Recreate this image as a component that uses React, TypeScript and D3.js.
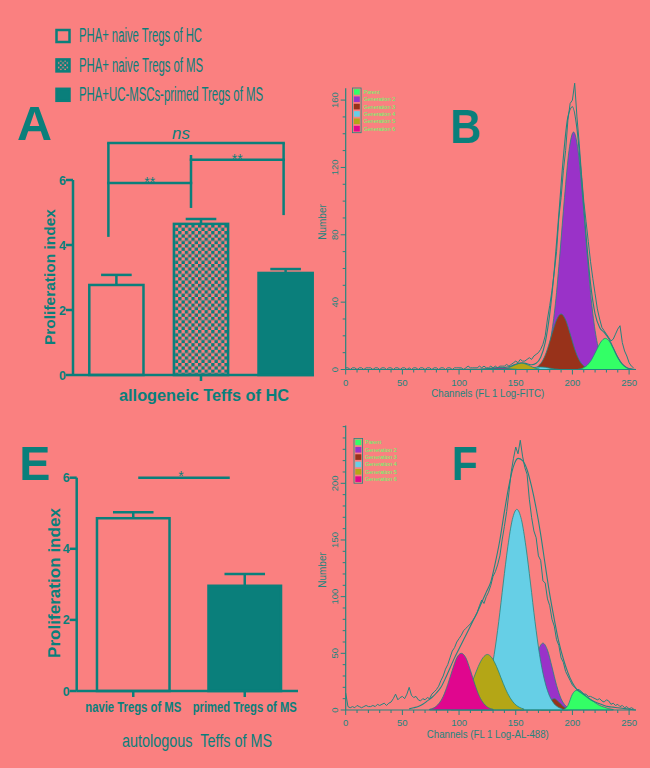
import React from "react";
import * as d3 from "d3";

const W = 650;
const H = 768;
const BG = "#fa8080";
const TEAL = "#0a7f7b";
const INK = "#23857f";
const LEGEND_INK = "#5cff6c";
const FONT = "'Liberation Sans', Arial, Helvetica, sans-serif";

// ---------- bar panels (A, E) ----------
const A_LABELS = ["PHA+ naive Tregs of HC", "PHA+ naive Tregs of MS", "PHA+UC-MSCs-primed Tregs of MS"];
const A_LABEL_WIDTHS = [123, 124, 184];
const A_MEANS = [2.77, 4.65, 3.14];
const A_SEMS = [0.31, 0.15, 0.12];
const A_STYLES = ["open", "checker", "solid"];
const A_BRACKETS = [
  { from: 0, to: 2, level: 7.14, label: "ns" },
  { from: 0, to: 1, level: 5.91, label: "**" },
  { from: 1, to: 2, level: 6.62, label: "**" },
];
const A_LEGS = [
  { at: 0, top: 7.14, bottom: 4.25 },
  { at: 1, top: 6.77, bottom: 5.14 },
  { at: 2, top: 7.14, bottom: 4.92 },
];

const E_LABELS = ["navie Tregs of MS", "primed Tregs of MS"];
const E_LABEL_WIDTHS = [96, 104];
const E_MEANS = [4.86, 2.96];
const E_SEMS = [0.17, 0.33];
const E_STYLES = ["open", "solid"];
const E_BRACKET = { from: 0, to: 1, level: 6, label: "*" };

const INDEX_TICKS = [0, 2, 4, 6];

// ---------- flow histograms (B, F) ----------
const GEN_NAMES = ["Parent", "Generation 2", "Generation 3", "Generation 4", "Generation 5", "Generation 6"];
const GEN_COLORS = ["#33ff66", "#9a32c8", "#98321a", "#66cfe6", "#b4a616", "#e0068e"];
const DRAW_ORDER = [1, 2, 3, 4, 5, 0];
const CHANNEL_TICKS = [0, 50, 100, 150, 200, 250];

// B: observed counts, every 2nd channel from 0
const B_DATA = [
  1, 1, 0, 1, 1, 0, 1, 1, 0, 1, 1, 1, 0, 1, 1, 0, 1, 1, 0, 1,
  1, 0, 1, 1, 0, 1, 1, 0, 1, 0, 1, 1, 0, 1, 1, 0, 1, 1, 0, 1,
  1, 0, 1, 1, 0, 1, 1, 0, 1, 1, 1, 1, 0, 1, 2, 1, 1, 1, 1, 2,
  1, 2, 1, 1, 2, 1, 2, 1, 2, 2, 2, 3, 2, 3, 4, 5, 4, 6, 5, 5,
  6, 7, 6, 8, 9, 10, 12, 15, 20, 30, 38, 47, 58, 70, 90, 102, 118, 130, 148, 158,
  160, 170, 150, 134, 116, 100, 88, 76, 64, 54, 45, 36, 30, 25, 23, 21, 19, 17, 18, 21,
  24, 26, 16, 11, 8, 4, 2, 1,
];
// B: fitted envelope, every 4th channel from 100
const B_MODEL_START = 100;
const B_MODEL = [
  0.1, 0.1, 0.1, 0.1, 0.15, 0.2, 0.4, 0.7, 0.9, 1.0, 1.2, 1.6, 2.6, 3.6, 4.0, 3.4, 2.8, 3.7, 7.3, 16,
  33, 59, 92, 126, 150, 156, 143, 114, 80, 51, 33, 25, 22, 18.4, 12.9, 7.2, 3.2, 1.1, 0.3, 0,
];
// B: generation peaks, every 4th channel from the start channel
const B_STARTS = [205, 169, 166, 156, 139, 119];
const B_PARENT = [0.2, 0.8, 2.5, 6.0, 11.2, 16.3, 18.5, 16.3, 11.2, 6.0, 2.5, 0.8, 0.2];
const B_GEN2 = [0.8, 2.8, 7.9, 19, 39, 69, 102, 130, 141, 130, 102, 69, 39, 19, 7.9, 2.8, 0.8];
const B_GEN3 = [0.6, 2.1, 5.6, 12.2, 21.2, 29.5, 33, 29.5, 21.2, 12.2, 5.6, 2.1, 0.6];
const B_GEN4 = [0.1, 0.35, 0.8, 1.3, 1.5, 1.3, 0.8, 0.35, 0.1];
const B_GEN5 = [0.28, 0.87, 2.0, 3.2, 3.8, 3.2, 2.0, 0.87, 0.28];
const B_GEN6 = [0.1, 0.3, 0.6, 0.9, 1.0, 0.9, 0.6, 0.3, 0.1];
const B_Y_TICKS = [0, 40, 80, 120, 160];

// F
const F_DATA = [
  15, 3, 2, 3, 2, 4, 3, 2, 3, 4, 3, 3, 4, 3, 5, 4, 5, 6, 4, 6,
  7, 10, 14, 9, 11, 12, 10, 14, 20, 13, 11, 12, 9, 8, 10, 9, 11, 10, 14, 16,
  18, 21, 26, 30, 36, 40, 46, 52, 55, 60, 63, 66, 70, 72, 74, 76, 79, 82, 86, 92,
  97, 94, 100, 104, 110, 118, 122, 128, 136, 150, 162, 175, 192, 210, 222, 232, 226, 238, 224, 214,
  208, 186, 170, 158, 152, 136, 132, 114, 112, 98, 92, 80, 74, 62, 57, 46, 42, 34, 30, 26,
  22, 20, 18, 18, 16, 14, 14, 12, 12, 11, 10, 9, 10, 8, 7, 9, 8, 5, 6, 4,
  5, 3, 4, 2, 3, 1, 2, 1,
];
const F_MODEL_START = 56;
const F_MODEL = [
  1, 2, 3, 5, 8, 11, 15, 20, 28, 37, 46, 54, 62, 70, 78, 86, 95, 104, 113, 130,
  150, 175, 198, 215, 222, 220, 212, 197, 178, 155, 128, 102, 80, 60, 45, 33, 24, 18, 15, 12,
  9, 7, 5.5, 4, 3, 2.5, 2, 1.5, 1, 0.5, 0,
];
const F_STARTS = [192, 154, 172, 111, 93, 74];
const F_PARENT = [0.3, 4, 14, 17.5, 16, 12.5, 9.5, 6.5, 4, 2.5, 1.2, 0.4];
const F_GEN2 = [3.7, 10, 21.8, 37.9, 52.8, 59, 52.8, 37.9, 21.8, 10, 3.7, 1];
const F_GEN3 = [0.5, 3, 8, 10, 7, 3, 1];
const F_GEN4 = [1.1, 2.8, 6.7, 14.4, 28, 49, 78, 112, 144, 168, 177, 168, 144, 112, 78, 49, 28, 14.4, 6.7, 2.8, 1.1];
const F_GEN5 = [1, 2.5, 5.5, 10.8, 18.6, 28.4, 38.5, 46, 49, 46, 38.5, 28.4, 18.6, 10.8, 5.5, 2.5, 1];
const F_GEN6 = [0.7, 2, 5.5, 12, 22.5, 35, 46, 50, 46, 35, 22.5, 12, 5.5, 2, 0.7];
const F_Y_TICKS = [0, 50, 100, 150, 200];

type Pt = [number, number];

const ROW = 7.35; // legend row pitch in the flow panels

function BarPanel(props: {
  means: number[];
  sems: number[];
  styles: string[];
  x: d3.ScaleBand<number>;
  y: d3.ScaleLinear<number, number>;
  axisX: number;
  axisEnd: number;
  xTicks: number[];
}) {
  const { means, sems, styles, x, y, axisX, axisEnd, xTicks } = props;
  const bw = x.bandwidth();
  return (
    <g>
      {means.map((m, i) => {
        const x0 = x(i) as number;
        const cx = x0 + bw / 2;
        const cap = bw * 0.27;
        const fill = styles[i] === "solid" ? TEAL : styles[i] === "checker" ? "url(#checker)" : "none";
        return (
          <g key={i}>
            <line x1={cx} x2={cx} y1={y(m)} y2={y(m + sems[i])} stroke={TEAL} strokeWidth={2.5} />
            <line x1={cx - cap} x2={cx + cap} y1={y(m + sems[i])} y2={y(m + sems[i])} stroke={TEAL} strokeWidth={2.5} />
            <rect x={x0 + 1.25} y={y(m)} width={bw - 2.5} height={y(0) - y(m)} fill={fill} stroke={TEAL} strokeWidth={2.5} />
          </g>
        );
      })}
      <line x1={axisX} x2={axisX} y1={y(0)} y2={y(6)} stroke={TEAL} strokeWidth={2.5} />
      <line x1={axisX} x2={axisEnd} y1={y(0)} y2={y(0)} stroke={TEAL} strokeWidth={2.5} />
      {INDEX_TICKS.map((t) => (
        <g key={t}>
          <line x1={axisX - 7} x2={axisX} y1={y(t)} y2={y(t)} stroke={TEAL} strokeWidth={2.5} />
          <text x={axisX - 7} y={y(t) + 4.5} textAnchor="end" fontSize={12.5} fontWeight="bold" fill={TEAL}>
            {t}
          </text>
        </g>
      ))}
      {xTicks.map((tx, i) => (
        <line key={i} x1={tx} x2={tx} y1={y(0)} y2={y(0) + 6} stroke={TEAL} strokeWidth={2.5} />
      ))}
    </g>
  );
}

function FlowPanel(props: {
  data: number[];
  model: number[];
  modelStart: number;
  comps: number[][];
  starts: number[];
  yMax: number;
  yBase: number;
  yTop: number;
  yTicks: number[];
  legendX: number;
  legendY: number;
  xlabel: string;
  xlabelWidth: number;
  numberY: number;
}) {
  const p = props;
  const x = d3.scaleLinear().domain([0, 256]).range([345.7, 635.9]);
  const y = d3.scaleLinear().domain([0, p.yMax]).range([p.yBase, p.yTop]);
  const area = d3
    .area<Pt>()
    .x((d) => x(d[0]))
    .y0(y(0))
    .y1((d) => y(d[1]))
    .curve(d3.curveMonotoneX);
  const smooth = d3
    .line<Pt>()
    .x((d) => x(d[0]))
    .y((d) => y(d[1]))
    .curve(d3.curveMonotoneX);
  const jagged = d3
    .line<Pt>()
    .x((d) => x(d[0]))
    .y((d) => y(d[1]));
  const dataPts: Pt[] = p.data.map((v, i) => [i * 2, v]);
  const modelPts: Pt[] = p.model.map((v, i) => [p.modelStart + i * 4, v]);
  const yMinor = d3.range(0, p.yMax, 10);
  const xMinor = d3.range(0, 257, 10);
  return (
    <g>
      {DRAW_ORDER.map((k) => {
        const pts: Pt[] = p.comps[k].map((v, i) => [p.starts[k] + i * 4, v]);
        return (
          <path key={k} d={area(pts) as string} fill={GEN_COLORS[k]} stroke={INK} strokeWidth={0.8} />
        );
      })}
      <path d={smooth(modelPts) as string} fill="none" stroke={INK} strokeWidth={1.1} />
      <path d={jagged(dataPts) as string} fill="none" stroke={INK} strokeWidth={1} />
      {/* axes */}
      <line x1={x(0)} x2={x(0)} y1={y(0)} y2={y(p.yMax)} stroke={INK} strokeWidth={1.2} />
      <line x1={x(0)} x2={x(256)} y1={y(0)} y2={y(0)} stroke={INK} strokeWidth={1.2} />
      {yMinor.map((t) => (
        <line key={t} x1={x(0) - (p.yTicks.includes(t) ? 5 : 3)} x2={x(0)} y1={y(t)} y2={y(t)} stroke={INK} strokeWidth={1} />
      ))}
      {xMinor.map((t) => (
        <line key={t} x1={x(t)} x2={x(t)} y1={y(0)} y2={y(0) + (t % 50 === 0 ? 5 : 3)} stroke={INK} strokeWidth={1} />
      ))}
      {p.yTicks.map((t) => (
        <text
          key={t}
          transform={`translate(${x(0) - 7.5},${y(t)}) rotate(-90)`}
          textAnchor="middle"
          fontSize={9.5}
          fill={INK}
        >
          {t}
        </text>
      ))}
      {CHANNEL_TICKS.map((t) => (
        <text key={t} x={x(t)} y={y(0) + 16} textAnchor="middle" fontSize={9.5} fill={INK}>
          {t}
        </text>
      ))}
      <text x={(x(0) + x(256)) / 2 - 3} y={y(0) + 27.5} textAnchor="middle" fontSize={11} fill={INK} textLength={p.xlabelWidth} lengthAdjust="spacingAndGlyphs">
        {p.xlabel}
      </text>
      <text transform={`translate(${326},${p.numberY}) rotate(-90)`} textAnchor="middle" fontSize={10} fill={INK}>
        Number
      </text>
      {/* legend */}
      <rect x={p.legendX} y={p.legendY} width={8.6} height={GEN_NAMES.length * ROW + 0.6} fill="none" stroke={INK} strokeWidth={0.8} />
      {GEN_NAMES.map((name, i) => (
        <g key={name}>
          <rect x={p.legendX + 1.3} y={p.legendY + 1.1 + i * ROW} width={6} height={5.6} fill={GEN_COLORS[i]} />
          <text
            transform={`translate(${p.legendX + 11},${p.legendY + 5.9 + i * ROW}) scale(0.55)`}
            fontSize={10}
            fill={LEGEND_INK}
          >
            {name}
          </text>
        </g>
      ))}
    </g>
  );
}

function Letter({ ch, x, y, w }: { ch: string; x: number; y: number; w: number }) {
  return (
    <text x={x} y={y} fontSize={48} fontWeight="bold" fill={TEAL} textLength={w} lengthAdjust="spacingAndGlyphs">
      {ch}
    </text>
  );
}

export default function App() {
  // panel A scales
  const aX = d3.scaleBand<number>().domain(d3.range(A_MEANS.length)).range([74, 328]).paddingInner(0.33).paddingOuter(0.166);
  const aY = d3.scaleLinear().domain([0, 6]).range([375, 180]);
  const aBw = aX.bandwidth();
  const aCenter = (i: number) => (aX(i) as number) + aBw / 2;
  const LEG_SHIFT = [-8, -10, -2];
  const legX = (i: number) => aCenter(i) + LEG_SHIFT[i];

  // panel E scales
  const eX = d3.scaleBand<number>().domain(d3.range(E_MEANS.length)).range([80, 298]).paddingInner(0.327).paddingOuter(0.141);
  const eY = d3.scaleLinear().domain([0, 6]).range([691, 477.7]);
  const eBw = eX.bandwidth();
  const eCenter = (i: number) => (eX(i) as number) + eBw / 2;

  const B_COMPS = [B_PARENT, B_GEN2, B_GEN3, B_GEN4, B_GEN5, B_GEN6];
  const F_COMPS = [F_PARENT, F_GEN2, F_GEN3, F_GEN4, F_GEN5, F_GEN6];

  return (
    <div style={{ position: "absolute", left: 0, top: 0, width: W, height: H }}>
      <svg width={W} height={H} viewBox={`0 0 ${W} ${H}`} style={{ display: "block", fontFamily: FONT }}>
        <defs>
          <pattern id="checker" width={6.6} height={6.6} patternUnits="userSpaceOnUse">
            <rect width={6.6} height={6.6} fill={BG} />
            <rect width={3.3} height={3.3} fill={TEAL} />
            <rect x={3.3} y={3.3} width={3.3} height={3.3} fill={TEAL} />
          </pattern>
          <pattern id="checkerSmall" width={4.4} height={4.4} patternUnits="userSpaceOnUse">
            <rect width={4.4} height={4.4} fill={TEAL} />
            <rect x={0.6} y={0.6} width={1.6} height={1.6} fill={BG} />
            <rect x={2.8} y={2.8} width={1.6} height={1.6} fill={BG} />
          </pattern>
        </defs>
        <rect width={W} height={H} fill={BG} />

        {/* legend for A */}
        {A_LABELS.map((lab, i) => {
          const fill = A_STYLES[i] === "solid" ? TEAL : A_STYLES[i] === "checker" ? "url(#checkerSmall)" : "none";
          const base = 42.3 + i * 29.4;
          return (
            <g key={lab}>
              <rect x={56.5} y={base - 12.3} width={13} height={12} fill={fill} stroke={TEAL} strokeWidth={2.5} />
              <text x={79} y={base} fontSize={19.5} fill={TEAL} textLength={A_LABEL_WIDTHS[i]} lengthAdjust="spacingAndGlyphs">
                {lab}
              </text>
            </g>
          );
        })}

        <Letter ch="A" x={17} y={140} w={35} />
        <Letter ch="B" x={450} y={143} w={31} />
        <Letter ch="E" x={19} y={480} w={31} />
        <Letter ch="F" x={451.5} y={480} w={26} />

        {/* panel A */}
        <BarPanel
          means={A_MEANS}
          sems={A_SEMS}
          styles={A_STYLES}
          x={aX}
          y={aY}
          axisX={73}
          axisEnd={(aX(A_MEANS.length - 1) as number) + aBw}
          xTicks={[aCenter(1)]}
        />
        {A_LEGS.map((l, i) => (
          <line key={i} x1={legX(l.at)} x2={legX(l.at)} y1={aY(l.top)} y2={aY(l.bottom)} stroke={TEAL} strokeWidth={2.5} />
        ))}
        {A_BRACKETS.map((b, i) => {
          const x1 = legX(b.from);
          const x2 = legX(b.to);
          const italic = b.label === "ns";
          return (
            <g key={i}>
              <line x1={x1 - 1.25} x2={x2 + 1.25} y1={aY(b.level)} y2={aY(b.level)} stroke={TEAL} strokeWidth={2.5} />
              <text
                x={(x1 + x2) / 2 - (italic ? 15 : 0)}
                y={aY(b.level) + (italic ? -4 : 4)}
                textAnchor="middle"
                fontSize={italic ? 17 : 14}
                fontStyle={italic ? "italic" : "normal"}
                fill={TEAL}
              >
                {b.label}
              </text>
            </g>
          );
        })}
        <text transform="translate(55,277) rotate(-90)" textAnchor="middle" fontSize={15} fontWeight="bold" fill={TEAL} textLength={136} lengthAdjust="spacingAndGlyphs">
          Proliferation index
        </text>
        <text x={204} y={401} textAnchor="middle" fontSize={16.5} fontWeight="bold" fill={TEAL} textLength={170} lengthAdjust="spacingAndGlyphs">
          allogeneic Teffs of HC
        </text>

        {/* panel E */}
        <BarPanel
          means={E_MEANS}
          sems={E_SEMS}
          styles={E_STYLES}
          x={eX}
          y={eY}
          axisX={76.7}
          axisEnd={298}
          xTicks={E_MEANS.map((_, i) => eCenter(i))}
        />
        <line
          x1={eCenter(E_BRACKET.from) + 5}
          x2={eCenter(E_BRACKET.to) - 15}
          y1={eY(E_BRACKET.level)}
          y2={eY(E_BRACKET.level)}
          stroke={TEAL}
          strokeWidth={2.5}
        />
        <text x={(eCenter(E_BRACKET.from) + eCenter(E_BRACKET.to)) / 2 - 8} y={eY(E_BRACKET.level) + 3} textAnchor="middle" fontSize={14} fill={TEAL}>
          {E_BRACKET.label}
        </text>
        <text transform="translate(59.5,583) rotate(-90)" textAnchor="middle" fontSize={16} fontWeight="bold" fill={TEAL} textLength={150} lengthAdjust="spacingAndGlyphs">
          Proliferation index
        </text>
        {E_LABELS.map((lab, i) => (
          <text key={lab} x={eCenter(i)} y={712} textAnchor="middle" fontSize={14} fontWeight="bold" fill={TEAL} textLength={E_LABEL_WIDTHS[i]} lengthAdjust="spacingAndGlyphs">
            {lab}
          </text>
        ))}
        <text x={197} y={747} textAnchor="middle" fontSize={18} fill={TEAL} textLength={150} lengthAdjust="spacingAndGlyphs" style={{ whiteSpace: "pre" }}>
          {"autologous  Teffs of MS"}
        </text>

        {/* panel B */}
        <FlowPanel
          data={B_DATA}
          model={B_MODEL}
          modelStart={B_MODEL_START}
          comps={B_COMPS}
          starts={B_STARTS}
          yMax={167}
          yBase={369.5}
          yTop={88.3}
          yTicks={B_Y_TICKS}
          legendX={352.5}
          legendY={88}
          xlabel="Channels (FL 1 Log-FITC)"
          xlabelWidth={113}
          numberY={222}
        />

        {/* panel F */}
        <FlowPanel
          data={F_DATA}
          model={F_MODEL}
          modelStart={F_MODEL_START}
          comps={F_COMPS}
          starts={F_STARTS}
          yMax={251}
          yBase={710}
          yTop={425.5}
          yTicks={F_Y_TICKS}
          legendX={354}
          legendY={438.5}
          xlabel="Channels (FL 1 Log-AL-488)"
          xlabelWidth={122}
          numberY={570}
        />
      </svg>
    </div>
  );
}
